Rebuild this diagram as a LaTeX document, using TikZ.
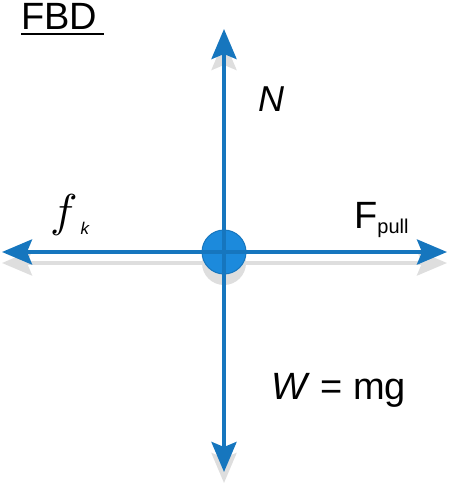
\documentclass[tikz,border=0pt]{standalone}
\usepackage{fontspec}
\setmainfont{Liberation Sans}
\usetikzlibrary{arrows.meta}
\usepackage{xcolor}
\definecolor{fbdblue}{RGB}{22,118,190}
\definecolor{bodyblue}{RGB}{28,138,220}
\definecolor{shadowgray}{RGB}{222,222,222}

\tikzset{
    force/.style={line width=4pt, fbdblue, -{Stealth[length=30pt,width=25pt,inset=5pt]}},
    forceshadow/.style={line width=4pt, shadowgray, -{Stealth[length=30pt,width=25pt,inset=5pt]}},
    lbl/.style={inner sep=0pt, anchor=base west},
}

\begin{document}
\begin{tikzpicture}[x=1pt, y=-1pt]
            \useasboundingbox (0,0) rectangle (448,489);
            % centre and arrow tips
            \coordinate (c) at (224,252);
            \coordinate (tipN) at (224,29);
            \coordinate (tipW) at (224,472);
            \coordinate (tipP) at (447,252);
            \coordinate (tipf) at (2,252);
            % shadows
            \fill[shadowgray] ([yshift=-11pt]c) circle[radius=22pt];
            \foreach \t in {tipN, tipW, tipP, tipf}
                \draw[forceshadow] ([yshift=-11pt]c) -- ([yshift=-11pt]\t);
            % body and forces
            \node[circle, fill=bodyblue, draw=fbdblue, line width=1pt,
                minimum size=44pt, inner sep=0pt] (body) at (c) {};
            \foreach \t in {tipN, tipW, tipP, tipf}
                \draw[force] (body.center) -- (\t);
            % labels
            \node[lbl, font=\fontsize{38}{46}\selectfont] (fbd) at (21,30) {FBD};
            \draw[line width=2pt] (fbd.base west) ++(0,4) -- ++(83,0);
            \node[lbl, font=\fontsize{36}{44}\selectfont\itshape] (lblN) at (258,112) {N};
            \node[lbl, font=\fontsize{38}{46}\selectfont] (lblP) at (354,228)
                {F\raisebox{-5pt}{\fontsize{20}{24}\selectfont pull}};
            \node[lbl, font=\fontsize{38}{46}\selectfont] (lblW) at (271,399)
                {\textit{W} = mg};
            \node[lbl] (lblf) at (50,226)
                {\scalebox{4.6}{$f$}\hspace{3pt}\raisebox{-8pt}{\fontsize{17}{20}\selectfont\itshape k}};
\end{tikzpicture}
\end{document}
